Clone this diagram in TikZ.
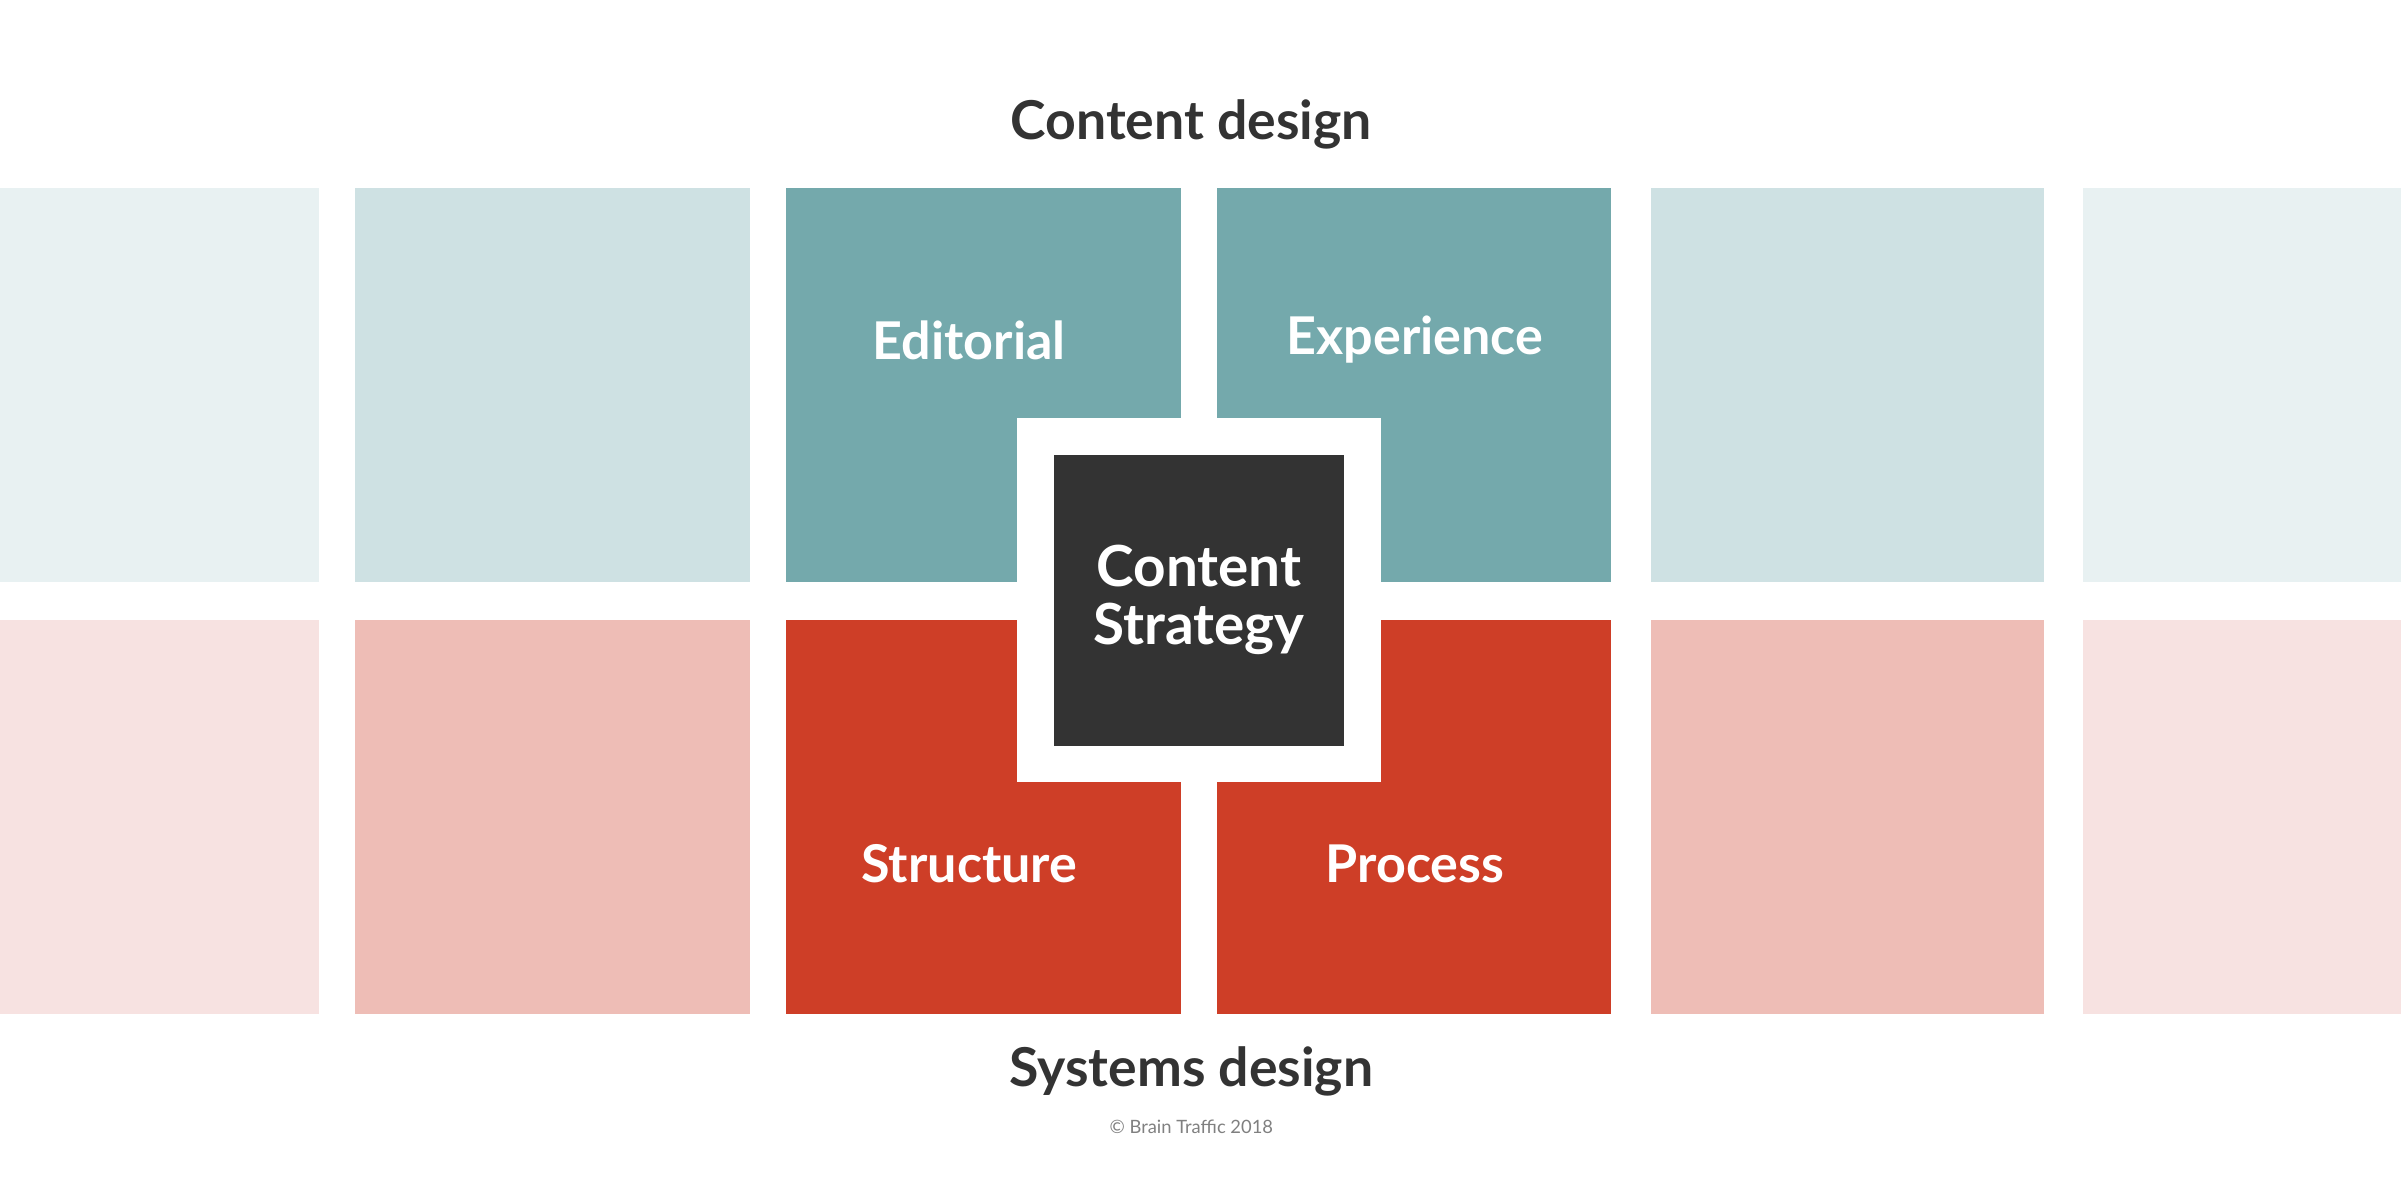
\documentclass[tikz,border=0pt]{standalone}
\usepackage{fontspec}
\setmainfont{Lato}
\definecolor{teal1}{HTML}{74A9AC}
\definecolor{teal2}{HTML}{CEE1E3}
\definecolor{teal3}{HTML}{E8F1F2}
\definecolor{red1}{HTML}{CE3E27}
\definecolor{red2}{HTML}{EEBDB6}
\definecolor{red3}{HTML}{F7E2E1}
\definecolor{dark}{HTML}{333333}
\begin{document}
\begin{tikzpicture}[x=1pt,y=-1pt,
  lbl/.style={text=white,font=\bfseries\fontsize{34}{38}\selectfont},
  head/.style={text=dark,font=\bfseries\fontsize{35}{40}\selectfont}]
\useasboundingbox (0,0) rectangle (1568,784);
\fill[white] (0,0) rectangle (1568,784);
% top row
\fill[teal3] (0,123) rectangle (208,380);
\fill[teal2] (232,123) rectangle (490,380);
\fill[teal1] (513,123) rectangle (771,380);
\fill[teal1] (795,123) rectangle (1052,380);
\fill[teal2] (1078,123) rectangle (1335,380);
\fill[teal3] (1360,123) rectangle (1568,380);
% bottom row
\fill[red3] (0,405) rectangle (208,662);
\fill[red2] (232,405) rectangle (490,662);
\fill[red1] (513,405) rectangle (771,662);
\fill[red1] (795,405) rectangle (1052,662);
\fill[red2] (1078,405) rectangle (1335,662);
\fill[red3] (1360,405) rectangle (1568,662);
% center
\fill[white] (664,273) rectangle (902,511);
\node[fill=dark,minimum size=190pt,inner sep=0pt,lbl,align=center,font=\bfseries\fontsize{37}{38}\selectfont] (cs) at (783,392) {Content\\Strategy};
\node[lbl] (ed) at (633,222) {Editorial};
\node[lbl] (ex) at (924,222) {Experience};
\node[lbl] (st) at (633,564) {Structure};
\node[lbl] (pr) at (924,564) {Process};
\node[head] (cd) at (778,81) {Content design};
\node[head] (sd) at (778,700) {Systems design};
\node[text=gray,font=\fontsize{12}{14}\selectfont] (cp) at (778,736) {© Brain Traffic 2018};
\end{tikzpicture}
\end{document}
